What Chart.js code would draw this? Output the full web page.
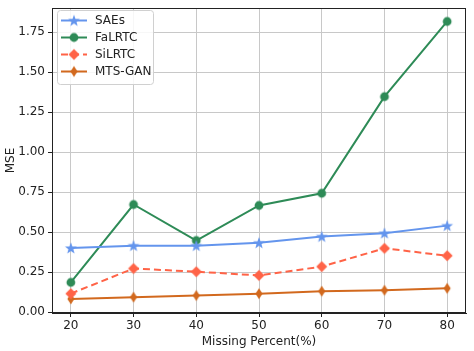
<!DOCTYPE html>
<html>
<head>
<meta charset="utf-8">
<script src="https://cdn.jsdelivr.net/npm/chart.js@4.4.0/dist/chart.umd.min.js"></script>
<style>
  html, body { margin: 0; padding: 0; background: #fff; }
  #wrap { width: 474px; height: 351px; }
</style>
</head>
<body>
<div id="wrap"><canvas id="chart" width="474" height="351"></canvas></div>
<script>
const missing = [20, 30, 40, 50, 60, 70, 80];
const saes = [0.40, 0.415, 0.415, 0.433, 0.472, 0.493, 0.54];
const falrtc = [0.185, 0.672, 0.447, 0.666, 0.742, 1.346, 1.816];
const silrtc = [0.115, 0.272, 0.252, 0.229, 0.284, 0.398, 0.352];
const mtsgan = [0.082, 0.093, 0.103, 0.115, 0.13, 0.136, 0.148];
const yTicks = [0, 0.25, 0.5, 0.75, 1.0, 1.25, 1.5, 1.75];

const FONT = "'DejaVu Sans', sans-serif";

function marker(kind, color) {
  const c = document.createElement("canvas");
  c.width = 16; c.height = 16;
  const g = c.getContext("2d");
  g.fillStyle = color;
  g.beginPath();
  if (kind === "star") {
    for (let i = 0; i < 10; i++) {
      const r = i % 2 ? 2.6 : 6.2;
      const a = -Math.PI / 2 + i * Math.PI / 5;
      g.lineTo(8 + r * Math.cos(a), 8.5 + r * Math.sin(a));
    }
  } else if (kind === "diamond") {
    g.moveTo(8, 2.5); g.lineTo(13.5, 8); g.lineTo(8, 13.5); g.lineTo(2.5, 8);
  } else if (kind === "thin") {
    g.moveTo(8, 2.5); g.lineTo(11.5, 8); g.lineTo(8, 13.5); g.lineTo(4.5, 8);
  } else {
    g.arc(8, 8, 4.4, 0, Math.PI * 2);
  }
  g.closePath();
  g.fill();
  return c;
}

function series(label, vals, color, kind, dash) {
  return {
    label,
    data: missing.map((x, i) => ({ x, y: vals[i] })),
    borderColor: color,
    backgroundColor: color,
    borderWidth: 2,
    borderDash: dash || [],
    pointStyle: marker(kind, color),
    pointRadius: 6,
    tension: 0,
  };
}

const frame = {
  id: "frame",
  afterDraw(chart) {
    const { ctx, chartArea: a } = chart;
    ctx.save();
    ctx.strokeStyle = "#222";
    ctx.lineWidth = 1;
    ctx.strokeRect(a.left + 0.5, a.top + 0.5, a.right - a.left - 1, a.bottom - a.top - 1);

    // legend box
    const x0 = 57, y0 = 10, w = 96, h = 74;
    ctx.fillStyle = "rgba(255,255,255,0.85)";
    ctx.strokeStyle = "#d0d0d0";
    ctx.beginPath();
    ctx.roundRect(x0 + 0.5, y0 + 0.5, w, h, 3);
    ctx.fill();
    ctx.stroke();
    ctx.font = "12px " + FONT;
    ctx.textBaseline = "middle";
    chart.data.datasets.forEach((ds, i) => {
      const y = 20.5 + i * 17;
      ctx.strokeStyle = ds.borderColor;
      ctx.lineWidth = 2;
      ctx.setLineDash(ds.borderDash);
      ctx.beginPath();
      ctx.moveTo(61, y); ctx.lineTo(87, y);
      ctx.stroke();
      ctx.setLineDash([]);
      ctx.drawImage(ds.pointStyle, 74 - 8, y - 8);
      ctx.fillStyle = "#222";
      ctx.fillText(ds.label, 95, y + 0.5);
    });
    ctx.restore();
  }
};

new Chart(document.getElementById("chart"), {
  type: "line",
  data: {
    datasets: [
      series("SAEs", saes, "#6495ED", "star"),
      series("FaLRTC", falrtc, "#2E8B57", "circle"),
      series("SiLRTC", silrtc, "#FF6347", "diamond", [7, 4]),
      series("MTS-GAN", mtsgan, "#D2691E", "thin"),
    ],
  },
  options: {
    responsive: false,
    animation: false,
    layout: { padding: { top: 3, right: 7, left: 4, bottom: 0 } },
    plugins: { legend: { display: false }, tooltip: { enabled: false } },
    scales: {
      x: {
        type: "linear",
        min: 17,
        max: 83,
        afterBuildTicks: (s) => { s.ticks = missing.map((v) => ({ value: v })); },
        afterFit: (s) => { s.height = 38; },
        grid: { color: "#c8c8c8", tickColor: "#222", tickLength: 4, drawOnChartArea: true },
        border: { color: "#222" },
        ticks: { color: "#222", font: { family: FONT, size: 12 }, padding: 2, maxRotation: 0 },
        title: { display: true, text: "Missing Percent(%)", color: "#222", font: { family: FONT, size: 12 }, padding: { top: 0, bottom: 2 } },
      },
      y: {
        min: -0.006,
        max: 1.9,
        afterBuildTicks: (s) => { s.ticks = yTicks.map((v) => ({ value: v })); },
        afterFit: (s) => { s.width = 48; s.paddingTop = 0; s.paddingBottom = 0; },
        grid: { color: "#c8c8c8", tickColor: "#222", tickLength: 4 },
        border: { color: "#222" },
        ticks: { color: "#222", font: { family: FONT, size: 12 }, padding: 3, callback: (v) => v.toFixed(2) },
        title: { display: true, text: "MSE", color: "#222", font: { family: FONT, size: 12 }, padding: { top: 0, bottom: 2 } },
      },
    },
  },
  plugins: [frame],
});
</script>
</body>
</html>
